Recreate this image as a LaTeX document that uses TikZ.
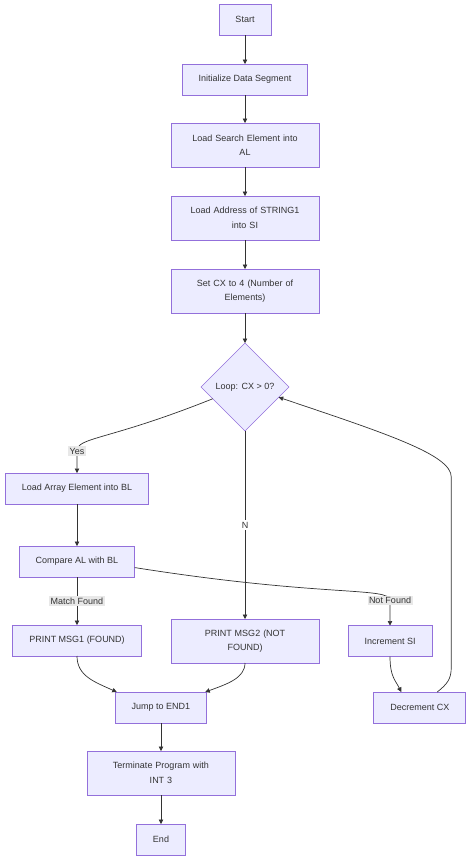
\documentclass[tikz,border=0pt]{standalone}
\usepackage{fontspec}
\setmainfont{Liberation Sans}
\usetikzlibrary{arrows.meta,positioning,shapes.geometric}
\definecolor{mmfill}{HTML}{ECECFF}
\definecolor{mmstroke}{HTML}{9370DB}
\definecolor{mmtext}{HTML}{333333}
\definecolor{mmline}{HTML}{333333}
\definecolor{mmlabel}{HTML}{E8E8E8}

\begin{document}
\begin{tikzpicture}[
      font=\fontsize{9pt}{14.5pt}\selectfont,
      box/.style={draw=mmstroke,fill=mmfill,text=mmtext,line width=0.6pt,minimum height=31pt,inner xsep=16.5pt,outer sep=0pt,align=center},
      tallbox/.style={box,minimum height=44pt,text width=115pt},
      decision/.style={diamond,aspect=1,draw=mmstroke,fill=mmfill,text=mmtext,line width=0.6pt,minimum width=88pt,minimum height=88pt,inner sep=0pt,outer sep=0pt},
      arr/.style={-{Triangle[length=4.5pt,width=4.5pt]},line width=0.7pt,draw=mmline},
      lbl/.style={fill=mmlabel,text=mmtext,inner sep=1.5pt}]
    \useasboundingbox (0,0) rectangle (474pt,-860pt);
    \node[box] (start) at (245pt,-19.5pt) {Start};
    \node[box,below=29pt of start] (init) {Initialize Data Segment};
    \node[tallbox,below=28pt of init] (load) {Load Search Element into\\AL};
    \node[tallbox,below=29pt of load] (addr) {Load Address of STRING1\\into SI};
    \node[tallbox,below=29pt of addr] (setcx) {Set CX to 4 (Number of\\Elements)};
    \node[decision,below=30pt of setcx] (dia) {Loop: CX > 0?};
    \node[box,below=42pt of dia,xshift=-168pt] (loadbl) {Load Array Element into BL};
    \node[box,below=42pt of loadbl] (cmp) {Compare AL with BL};
    \node[box,below=48pt of cmp] (msg1) {PRINT MSG1 (FOUND)};
    \node[tallbox,below=188pt of dia] (msg2) {PRINT MSG2 (NOT\\FOUND)};
    \node[box,right=29pt of msg2] (inc) {Increment SI};
    \node[box,below=36pt of msg1,xshift=84pt] (jump) {Jump to END1};
    \node[box,right=167pt of jump] (dec) {Decrement CX};
    \node[tallbox,below=28pt of jump] (term) {Terminate Program with\\INT 3};
    \node[box,below=29pt of term] (fin) {End};
    % label points on the curved edges
    \coordinate[above=22pt of loadbl.north] (yes);
    \coordinate[above=25pt of inc.north] (notfound);

    \draw[arr] (start) -- (init);
    \draw[arr] (init) -- (load);
    \draw[arr] (load) -- (addr);
    \draw[arr] (addr) -- (setcx);
    \draw[arr] (setcx) -- (dia);
    \draw[arr] (dia.200) .. controls +(-105pt,-42pt) and +(0pt,14pt) .. (yes) node[lbl] {Yes} -- (loadbl.north);
    \draw[arr] (dia) -- node[fill=white,text=mmtext,inner sep=1.5pt] {N} (msg2);
    \draw[arr] (loadbl) -- (cmp);
    \draw[arr] (cmp) -- node[lbl] {Match Found} (msg1);
    \draw[arr] (cmp.-6) .. controls +(190pt,-30pt) and +(0pt,14pt) .. (notfound) node[lbl] {Not Found} -- (inc.north);
    \draw[arr] (msg1.south) .. controls +(0pt,-20pt) and +(-22pt,10pt) .. ([xshift=1.5pt]jump.north west);
    \draw[arr] (msg2.south) .. controls +(0pt,-15pt) and +(22pt,8pt) .. ([xshift=-1.5pt]jump.north east);
    \draw[arr] (inc.south) .. controls +(0pt,-20pt) and +(-6pt,12pt) .. ([xshift=-18.5pt]dec.north);
    \draw[arr] ([xshift=17.5pt]dec.north) .. controls +(10pt,8pt) and +(0pt,-12pt) .. ++(14pt,25pt)
      -- ++(0pt,190pt) .. controls +(0pt,22pt) and +(110pt,-37pt) .. (dia.-17);
    \draw[arr] (jump) -- (term);
    \draw[arr] (term) -- (fin);
  \end{tikzpicture}
\end{document}
